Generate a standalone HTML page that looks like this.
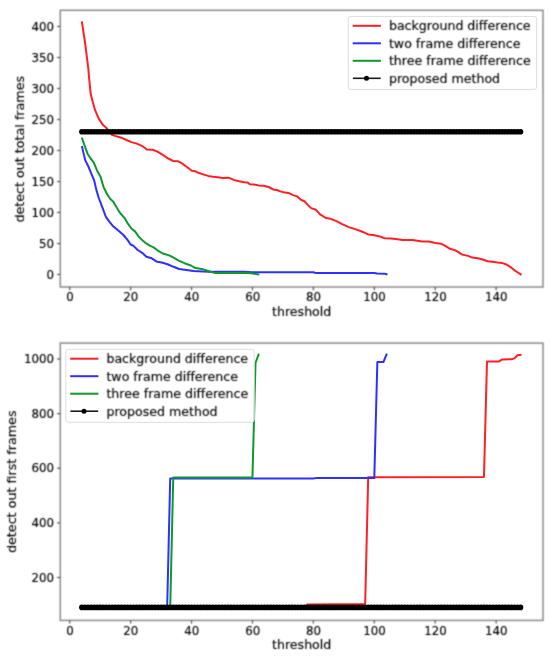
<!DOCTYPE html>
<html><head><meta charset="utf-8"><title>threshold comparison</title>
<style>html,body{margin:0;padding:0;background:#fff;}body{width:550px;height:657px;overflow:hidden;}svg{display:block;}text{stroke:#000;stroke-width:0.15px;}</style>
</head><body>
<svg width="550" height="657" viewBox="0 0 550 657" font-family='"DejaVu Sans", "Liberation Sans", sans-serif' font-size="12.6" fill="#000000">
<defs><filter id="soft" filterUnits="userSpaceOnUse" x="0" y="0" width="550" height="657" color-interpolation-filters="sRGB"><feConvolveMatrix order="3" kernelMatrix="1 2 1 2 8 2 1 2 1" edgeMode="none"/></filter></defs>
<rect width="550" height="657" fill="#fff"/>
<polyline points="82.00,22.40 85.30,44.50 88.30,68.50 89.00,77.00 90.70,94.10 92.70,101.80 95.10,110.20 98.70,118.60 103.10,125.10 106.80,128.20 108.60,131.00 111.60,134.60 114.90,135.90 121.50,137.70 126.40,140.00 131.30,142.10 136.20,143.40 141.90,145.90 144.40,147.50 146.80,149.50 152.50,149.80 157.50,151.60 162.40,154.70 167.30,158.00 173.00,160.90 177.90,161.20 182.00,163.40 186.90,167.00 191.80,170.70 195.10,171.20 198.30,172.80 203.20,174.40 208.10,175.90 213.00,176.70 217.90,177.20 222.80,178.00 228.50,177.70 234.30,180.10 239.20,181.30 244.10,182.30 247.40,182.40 249.80,184.20 253.90,184.50 258.80,185.40 263.70,185.70 268.60,187.00 273.50,189.50 276.80,190.00 280.50,191.40 283.30,192.30 289.00,193.10 293.10,195.10 297.20,196.40 301.30,200.00 304.50,201.30 307.80,204.90 311.10,208.10 316.00,209.80 320.10,214.40 325.80,218.00 330.70,218.80 336.50,221.20 342.20,224.20 348.70,227.10 355.30,229.10 361.80,231.50 366.00,233.30 368.30,234.40 373.20,235.10 379.70,236.40 384.60,238.30 391.20,238.50 397.70,239.30 402.60,240.00 412.50,240.00 415.70,240.50 422.30,241.60 428.80,241.60 435.40,242.90 441.10,243.70 445.20,245.90 450.10,248.80 455.50,250.40 462.30,254.60 468.00,255.90 472.10,257.60 477.80,258.20 482.70,259.50 487.60,261.20 492.50,261.70 497.50,262.50 502.40,263.10 506.50,264.50 511.40,267.70 515.50,271.00 520.60,274.40" fill="none" stroke="#ff1f24" stroke-width="2.0" stroke-linejoin="round" stroke-linecap="square"/>
<polyline points="82.10,147.00 83.50,153.10 85.30,160.40 88.40,166.50 91.40,173.80 94.20,180.50 96.30,189.60 98.60,197.50 101.50,205.20 105.90,216.80 109.50,221.90 113.20,226.30 118.30,230.60 123.40,235.00 127.70,240.10 130.60,244.50 133.50,245.90 137.70,250.00 142.20,252.80 146.40,256.80 151.80,258.30 156.40,261.40 162.70,262.80 168.20,264.50 173.60,266.80 179.10,269.00 186.40,269.90 193.60,271.00 202.70,271.40 210.00,271.80 245.30,271.80 251.10,272.20 313.40,272.30 316.00,273.10 374.50,273.10 377.00,273.60 384.70,273.80 386.50,274.30" fill="none" stroke="#2f2fff" stroke-width="2.0" stroke-linejoin="round" stroke-linecap="square"/>
<polyline points="82.10,138.50 84.70,145.80 87.80,154.30 90.80,158.60 93.90,162.90 96.90,170.20 100.60,176.90 103.60,187.20 107.30,194.50 110.30,199.00 113.20,201.50 116.10,206.60 119.70,212.50 124.80,218.30 127.70,223.40 131.40,228.50 135.00,231.40 138.60,236.50 141.50,239.40 146.60,243.70 150.30,245.90 153.20,247.10 157.50,250.30 162.70,253.50 169.10,255.40 173.60,257.70 179.10,260.80 184.50,263.20 190.90,265.50 195.50,268.10 201.70,268.90 206.00,270.30 210.40,271.70 214.70,272.90 245.30,272.90 251.10,273.20 258.40,274.30" fill="none" stroke="#0e982f" stroke-width="2.0" stroke-linejoin="round" stroke-linecap="square"/>
<g fill="#000"><line x1="81.88" y1="131.7" x2="520.51" y2="131.7" stroke="#000" stroke-width="1.9"/><circle cx="81.88" cy="131.7" r="2.8"/><circle cx="84.93" cy="131.7" r="2.8"/><circle cx="87.98" cy="131.7" r="2.8"/><circle cx="91.02" cy="131.7" r="2.8"/><circle cx="94.07" cy="131.7" r="2.8"/><circle cx="97.11" cy="131.7" r="2.8"/><circle cx="100.16" cy="131.7" r="2.8"/><circle cx="103.21" cy="131.7" r="2.8"/><circle cx="106.25" cy="131.7" r="2.8"/><circle cx="109.30" cy="131.7" r="2.8"/><circle cx="112.34" cy="131.7" r="2.8"/><circle cx="115.39" cy="131.7" r="2.8"/><circle cx="118.44" cy="131.7" r="2.8"/><circle cx="121.48" cy="131.7" r="2.8"/><circle cx="124.53" cy="131.7" r="2.8"/><circle cx="127.57" cy="131.7" r="2.8"/><circle cx="130.62" cy="131.7" r="2.8"/><circle cx="133.67" cy="131.7" r="2.8"/><circle cx="136.71" cy="131.7" r="2.8"/><circle cx="139.76" cy="131.7" r="2.8"/><circle cx="142.80" cy="131.7" r="2.8"/><circle cx="145.85" cy="131.7" r="2.8"/><circle cx="148.90" cy="131.7" r="2.8"/><circle cx="151.94" cy="131.7" r="2.8"/><circle cx="154.99" cy="131.7" r="2.8"/><circle cx="158.03" cy="131.7" r="2.8"/><circle cx="161.08" cy="131.7" r="2.8"/><circle cx="164.13" cy="131.7" r="2.8"/><circle cx="167.17" cy="131.7" r="2.8"/><circle cx="170.22" cy="131.7" r="2.8"/><circle cx="173.26" cy="131.7" r="2.8"/><circle cx="176.31" cy="131.7" r="2.8"/><circle cx="179.36" cy="131.7" r="2.8"/><circle cx="182.40" cy="131.7" r="2.8"/><circle cx="185.45" cy="131.7" r="2.8"/><circle cx="188.49" cy="131.7" r="2.8"/><circle cx="191.54" cy="131.7" r="2.8"/><circle cx="194.59" cy="131.7" r="2.8"/><circle cx="197.63" cy="131.7" r="2.8"/><circle cx="200.68" cy="131.7" r="2.8"/><circle cx="203.72" cy="131.7" r="2.8"/><circle cx="206.77" cy="131.7" r="2.8"/><circle cx="209.82" cy="131.7" r="2.8"/><circle cx="212.86" cy="131.7" r="2.8"/><circle cx="215.91" cy="131.7" r="2.8"/><circle cx="218.95" cy="131.7" r="2.8"/><circle cx="222.00" cy="131.7" r="2.8"/><circle cx="225.05" cy="131.7" r="2.8"/><circle cx="228.09" cy="131.7" r="2.8"/><circle cx="231.14" cy="131.7" r="2.8"/><circle cx="234.18" cy="131.7" r="2.8"/><circle cx="237.23" cy="131.7" r="2.8"/><circle cx="240.28" cy="131.7" r="2.8"/><circle cx="243.32" cy="131.7" r="2.8"/><circle cx="246.37" cy="131.7" r="2.8"/><circle cx="249.41" cy="131.7" r="2.8"/><circle cx="252.46" cy="131.7" r="2.8"/><circle cx="255.51" cy="131.7" r="2.8"/><circle cx="258.55" cy="131.7" r="2.8"/><circle cx="261.60" cy="131.7" r="2.8"/><circle cx="264.64" cy="131.7" r="2.8"/><circle cx="267.69" cy="131.7" r="2.8"/><circle cx="270.74" cy="131.7" r="2.8"/><circle cx="273.78" cy="131.7" r="2.8"/><circle cx="276.83" cy="131.7" r="2.8"/><circle cx="279.87" cy="131.7" r="2.8"/><circle cx="282.92" cy="131.7" r="2.8"/><circle cx="285.97" cy="131.7" r="2.8"/><circle cx="289.01" cy="131.7" r="2.8"/><circle cx="292.06" cy="131.7" r="2.8"/><circle cx="295.10" cy="131.7" r="2.8"/><circle cx="298.15" cy="131.7" r="2.8"/><circle cx="301.20" cy="131.7" r="2.8"/><circle cx="304.24" cy="131.7" r="2.8"/><circle cx="307.29" cy="131.7" r="2.8"/><circle cx="310.33" cy="131.7" r="2.8"/><circle cx="313.38" cy="131.7" r="2.8"/><circle cx="316.43" cy="131.7" r="2.8"/><circle cx="319.47" cy="131.7" r="2.8"/><circle cx="322.52" cy="131.7" r="2.8"/><circle cx="325.56" cy="131.7" r="2.8"/><circle cx="328.61" cy="131.7" r="2.8"/><circle cx="331.66" cy="131.7" r="2.8"/><circle cx="334.70" cy="131.7" r="2.8"/><circle cx="337.75" cy="131.7" r="2.8"/><circle cx="340.79" cy="131.7" r="2.8"/><circle cx="343.84" cy="131.7" r="2.8"/><circle cx="346.89" cy="131.7" r="2.8"/><circle cx="349.93" cy="131.7" r="2.8"/><circle cx="352.98" cy="131.7" r="2.8"/><circle cx="356.02" cy="131.7" r="2.8"/><circle cx="359.07" cy="131.7" r="2.8"/><circle cx="362.12" cy="131.7" r="2.8"/><circle cx="365.16" cy="131.7" r="2.8"/><circle cx="368.21" cy="131.7" r="2.8"/><circle cx="371.25" cy="131.7" r="2.8"/><circle cx="374.30" cy="131.7" r="2.8"/><circle cx="377.35" cy="131.7" r="2.8"/><circle cx="380.39" cy="131.7" r="2.8"/><circle cx="383.44" cy="131.7" r="2.8"/><circle cx="386.48" cy="131.7" r="2.8"/><circle cx="389.53" cy="131.7" r="2.8"/><circle cx="392.58" cy="131.7" r="2.8"/><circle cx="395.62" cy="131.7" r="2.8"/><circle cx="398.67" cy="131.7" r="2.8"/><circle cx="401.71" cy="131.7" r="2.8"/><circle cx="404.76" cy="131.7" r="2.8"/><circle cx="407.81" cy="131.7" r="2.8"/><circle cx="410.85" cy="131.7" r="2.8"/><circle cx="413.90" cy="131.7" r="2.8"/><circle cx="416.94" cy="131.7" r="2.8"/><circle cx="419.99" cy="131.7" r="2.8"/><circle cx="423.04" cy="131.7" r="2.8"/><circle cx="426.08" cy="131.7" r="2.8"/><circle cx="429.13" cy="131.7" r="2.8"/><circle cx="432.17" cy="131.7" r="2.8"/><circle cx="435.22" cy="131.7" r="2.8"/><circle cx="438.27" cy="131.7" r="2.8"/><circle cx="441.31" cy="131.7" r="2.8"/><circle cx="444.36" cy="131.7" r="2.8"/><circle cx="447.40" cy="131.7" r="2.8"/><circle cx="450.45" cy="131.7" r="2.8"/><circle cx="453.50" cy="131.7" r="2.8"/><circle cx="456.54" cy="131.7" r="2.8"/><circle cx="459.59" cy="131.7" r="2.8"/><circle cx="462.63" cy="131.7" r="2.8"/><circle cx="465.68" cy="131.7" r="2.8"/><circle cx="468.73" cy="131.7" r="2.8"/><circle cx="471.77" cy="131.7" r="2.8"/><circle cx="474.82" cy="131.7" r="2.8"/><circle cx="477.86" cy="131.7" r="2.8"/><circle cx="480.91" cy="131.7" r="2.8"/><circle cx="483.96" cy="131.7" r="2.8"/><circle cx="487.00" cy="131.7" r="2.8"/><circle cx="490.05" cy="131.7" r="2.8"/><circle cx="493.09" cy="131.7" r="2.8"/><circle cx="496.14" cy="131.7" r="2.8"/><circle cx="499.19" cy="131.7" r="2.8"/><circle cx="502.23" cy="131.7" r="2.8"/><circle cx="505.28" cy="131.7" r="2.8"/><circle cx="508.32" cy="131.7" r="2.8"/><circle cx="511.37" cy="131.7" r="2.8"/><circle cx="514.42" cy="131.7" r="2.8"/><circle cx="517.46" cy="131.7" r="2.8"/><circle cx="520.51" cy="131.7" r="2.8"/></g>
<polyline points="81.88,607.40 304.24,607.40 307.29,604.50 365.16,604.10 368.21,477.20 483.96,477.00 487.00,361.40 499.19,361.40 502.23,359.40 511.37,359.20 514.42,358.40 517.46,355.20 520.51,354.80" fill="none" stroke="#ff1f24" stroke-width="2.0" stroke-linejoin="round" stroke-linecap="square"/>
<polyline points="81.88,607.40 167.17,607.40 170.22,478.40 313.38,478.40 316.43,478.10 374.30,478.10 377.35,362.00 383.44,362.00 386.48,354.60" fill="none" stroke="#2f2fff" stroke-width="2.0" stroke-linejoin="round" stroke-linecap="square"/>
<polyline points="81.88,607.40 170.22,607.40 173.26,477.40 252.46,477.40 255.51,363.00 258.55,354.60" fill="none" stroke="#0e982f" stroke-width="2.0" stroke-linejoin="round" stroke-linecap="square"/>
<g fill="#000"><line x1="81.88" y1="607.4" x2="520.51" y2="607.4" stroke="#000" stroke-width="1.9"/><circle cx="81.88" cy="607.4" r="2.8"/><circle cx="84.93" cy="607.4" r="2.8"/><circle cx="87.98" cy="607.4" r="2.8"/><circle cx="91.02" cy="607.4" r="2.8"/><circle cx="94.07" cy="607.4" r="2.8"/><circle cx="97.11" cy="607.4" r="2.8"/><circle cx="100.16" cy="607.4" r="2.8"/><circle cx="103.21" cy="607.4" r="2.8"/><circle cx="106.25" cy="607.4" r="2.8"/><circle cx="109.30" cy="607.4" r="2.8"/><circle cx="112.34" cy="607.4" r="2.8"/><circle cx="115.39" cy="607.4" r="2.8"/><circle cx="118.44" cy="607.4" r="2.8"/><circle cx="121.48" cy="607.4" r="2.8"/><circle cx="124.53" cy="607.4" r="2.8"/><circle cx="127.57" cy="607.4" r="2.8"/><circle cx="130.62" cy="607.4" r="2.8"/><circle cx="133.67" cy="607.4" r="2.8"/><circle cx="136.71" cy="607.4" r="2.8"/><circle cx="139.76" cy="607.4" r="2.8"/><circle cx="142.80" cy="607.4" r="2.8"/><circle cx="145.85" cy="607.4" r="2.8"/><circle cx="148.90" cy="607.4" r="2.8"/><circle cx="151.94" cy="607.4" r="2.8"/><circle cx="154.99" cy="607.4" r="2.8"/><circle cx="158.03" cy="607.4" r="2.8"/><circle cx="161.08" cy="607.4" r="2.8"/><circle cx="164.13" cy="607.4" r="2.8"/><circle cx="167.17" cy="607.4" r="2.8"/><circle cx="170.22" cy="607.4" r="2.8"/><circle cx="173.26" cy="607.4" r="2.8"/><circle cx="176.31" cy="607.4" r="2.8"/><circle cx="179.36" cy="607.4" r="2.8"/><circle cx="182.40" cy="607.4" r="2.8"/><circle cx="185.45" cy="607.4" r="2.8"/><circle cx="188.49" cy="607.4" r="2.8"/><circle cx="191.54" cy="607.4" r="2.8"/><circle cx="194.59" cy="607.4" r="2.8"/><circle cx="197.63" cy="607.4" r="2.8"/><circle cx="200.68" cy="607.4" r="2.8"/><circle cx="203.72" cy="607.4" r="2.8"/><circle cx="206.77" cy="607.4" r="2.8"/><circle cx="209.82" cy="607.4" r="2.8"/><circle cx="212.86" cy="607.4" r="2.8"/><circle cx="215.91" cy="607.4" r="2.8"/><circle cx="218.95" cy="607.4" r="2.8"/><circle cx="222.00" cy="607.4" r="2.8"/><circle cx="225.05" cy="607.4" r="2.8"/><circle cx="228.09" cy="607.4" r="2.8"/><circle cx="231.14" cy="607.4" r="2.8"/><circle cx="234.18" cy="607.4" r="2.8"/><circle cx="237.23" cy="607.4" r="2.8"/><circle cx="240.28" cy="607.4" r="2.8"/><circle cx="243.32" cy="607.4" r="2.8"/><circle cx="246.37" cy="607.4" r="2.8"/><circle cx="249.41" cy="607.4" r="2.8"/><circle cx="252.46" cy="607.4" r="2.8"/><circle cx="255.51" cy="607.4" r="2.8"/><circle cx="258.55" cy="607.4" r="2.8"/><circle cx="261.60" cy="607.4" r="2.8"/><circle cx="264.64" cy="607.4" r="2.8"/><circle cx="267.69" cy="607.4" r="2.8"/><circle cx="270.74" cy="607.4" r="2.8"/><circle cx="273.78" cy="607.4" r="2.8"/><circle cx="276.83" cy="607.4" r="2.8"/><circle cx="279.87" cy="607.4" r="2.8"/><circle cx="282.92" cy="607.4" r="2.8"/><circle cx="285.97" cy="607.4" r="2.8"/><circle cx="289.01" cy="607.4" r="2.8"/><circle cx="292.06" cy="607.4" r="2.8"/><circle cx="295.10" cy="607.4" r="2.8"/><circle cx="298.15" cy="607.4" r="2.8"/><circle cx="301.20" cy="607.4" r="2.8"/><circle cx="304.24" cy="607.4" r="2.8"/><circle cx="307.29" cy="607.4" r="2.8"/><circle cx="310.33" cy="607.4" r="2.8"/><circle cx="313.38" cy="607.4" r="2.8"/><circle cx="316.43" cy="607.4" r="2.8"/><circle cx="319.47" cy="607.4" r="2.8"/><circle cx="322.52" cy="607.4" r="2.8"/><circle cx="325.56" cy="607.4" r="2.8"/><circle cx="328.61" cy="607.4" r="2.8"/><circle cx="331.66" cy="607.4" r="2.8"/><circle cx="334.70" cy="607.4" r="2.8"/><circle cx="337.75" cy="607.4" r="2.8"/><circle cx="340.79" cy="607.4" r="2.8"/><circle cx="343.84" cy="607.4" r="2.8"/><circle cx="346.89" cy="607.4" r="2.8"/><circle cx="349.93" cy="607.4" r="2.8"/><circle cx="352.98" cy="607.4" r="2.8"/><circle cx="356.02" cy="607.4" r="2.8"/><circle cx="359.07" cy="607.4" r="2.8"/><circle cx="362.12" cy="607.4" r="2.8"/><circle cx="365.16" cy="607.4" r="2.8"/><circle cx="368.21" cy="607.4" r="2.8"/><circle cx="371.25" cy="607.4" r="2.8"/><circle cx="374.30" cy="607.4" r="2.8"/><circle cx="377.35" cy="607.4" r="2.8"/><circle cx="380.39" cy="607.4" r="2.8"/><circle cx="383.44" cy="607.4" r="2.8"/><circle cx="386.48" cy="607.4" r="2.8"/><circle cx="389.53" cy="607.4" r="2.8"/><circle cx="392.58" cy="607.4" r="2.8"/><circle cx="395.62" cy="607.4" r="2.8"/><circle cx="398.67" cy="607.4" r="2.8"/><circle cx="401.71" cy="607.4" r="2.8"/><circle cx="404.76" cy="607.4" r="2.8"/><circle cx="407.81" cy="607.4" r="2.8"/><circle cx="410.85" cy="607.4" r="2.8"/><circle cx="413.90" cy="607.4" r="2.8"/><circle cx="416.94" cy="607.4" r="2.8"/><circle cx="419.99" cy="607.4" r="2.8"/><circle cx="423.04" cy="607.4" r="2.8"/><circle cx="426.08" cy="607.4" r="2.8"/><circle cx="429.13" cy="607.4" r="2.8"/><circle cx="432.17" cy="607.4" r="2.8"/><circle cx="435.22" cy="607.4" r="2.8"/><circle cx="438.27" cy="607.4" r="2.8"/><circle cx="441.31" cy="607.4" r="2.8"/><circle cx="444.36" cy="607.4" r="2.8"/><circle cx="447.40" cy="607.4" r="2.8"/><circle cx="450.45" cy="607.4" r="2.8"/><circle cx="453.50" cy="607.4" r="2.8"/><circle cx="456.54" cy="607.4" r="2.8"/><circle cx="459.59" cy="607.4" r="2.8"/><circle cx="462.63" cy="607.4" r="2.8"/><circle cx="465.68" cy="607.4" r="2.8"/><circle cx="468.73" cy="607.4" r="2.8"/><circle cx="471.77" cy="607.4" r="2.8"/><circle cx="474.82" cy="607.4" r="2.8"/><circle cx="477.86" cy="607.4" r="2.8"/><circle cx="480.91" cy="607.4" r="2.8"/><circle cx="483.96" cy="607.4" r="2.8"/><circle cx="487.00" cy="607.4" r="2.8"/><circle cx="490.05" cy="607.4" r="2.8"/><circle cx="493.09" cy="607.4" r="2.8"/><circle cx="496.14" cy="607.4" r="2.8"/><circle cx="499.19" cy="607.4" r="2.8"/><circle cx="502.23" cy="607.4" r="2.8"/><circle cx="505.28" cy="607.4" r="2.8"/><circle cx="508.32" cy="607.4" r="2.8"/><circle cx="511.37" cy="607.4" r="2.8"/><circle cx="514.42" cy="607.4" r="2.8"/><circle cx="517.46" cy="607.4" r="2.8"/><circle cx="520.51" cy="607.4" r="2.8"/></g>
<rect x="348.30" y="16.40" width="188.4" height="73.0" rx="2.6" fill="#fff" fill-opacity="0.8" stroke="#dedede" stroke-width="1"/>
<line x1="353.70" y1="25.80" x2="379.90" y2="25.80" stroke="#ff1f24" stroke-width="2.0" stroke-linecap="square"/>
<line x1="353.70" y1="43.30" x2="379.90" y2="43.30" stroke="#2f2fff" stroke-width="2.0" stroke-linecap="square"/>
<line x1="353.70" y1="60.80" x2="379.90" y2="60.80" stroke="#0e982f" stroke-width="2.0" stroke-linecap="square"/>
<line x1="353.70" y1="78.30" x2="379.90" y2="78.30" stroke="#1a1a1a" stroke-width="1.6" stroke-linecap="square"/>
<circle cx="366.50" cy="78.30" r="2.5" fill="#000"/>
<rect x="65.80" y="349.30" width="188.4" height="73.0" rx="2.6" fill="#fff" fill-opacity="0.8" stroke="#dedede" stroke-width="1"/>
<line x1="71.20" y1="358.70" x2="97.40" y2="358.70" stroke="#ff1f24" stroke-width="2.0" stroke-linecap="square"/>
<line x1="71.20" y1="376.20" x2="97.40" y2="376.20" stroke="#2f2fff" stroke-width="2.0" stroke-linecap="square"/>
<line x1="71.20" y1="393.70" x2="97.40" y2="393.70" stroke="#0e982f" stroke-width="2.0" stroke-linecap="square"/>
<line x1="71.20" y1="411.20" x2="97.40" y2="411.20" stroke="#1a1a1a" stroke-width="1.6" stroke-linecap="square"/>
<circle cx="84.00" cy="411.20" r="2.5" fill="#000"/>
<g filter="url(#soft)">
<rect x="60.30" y="10.30" width="482.70" height="276.70" fill="none" stroke="#8a8a8a" stroke-width="1.5"/>
<line x1="57.10" y1="274.50" x2="60.30" y2="274.50" stroke="#555" stroke-width="1.2"/>
<text transform="translate(54.0,278.70) scale(1,1.0)" text-anchor="end" font-size="11.8">0</text>
<line x1="57.10" y1="243.50" x2="60.30" y2="243.50" stroke="#555" stroke-width="1.2"/>
<text transform="translate(54.0,247.70) scale(1,1.0)" text-anchor="end" font-size="11.8">50</text>
<line x1="57.10" y1="212.50" x2="60.30" y2="212.50" stroke="#555" stroke-width="1.2"/>
<text transform="translate(54.0,216.70) scale(1,1.0)" text-anchor="end" font-size="11.8">100</text>
<line x1="57.10" y1="181.50" x2="60.30" y2="181.50" stroke="#555" stroke-width="1.2"/>
<text transform="translate(54.0,185.70) scale(1,1.0)" text-anchor="end" font-size="11.8">150</text>
<line x1="57.10" y1="150.50" x2="60.30" y2="150.50" stroke="#555" stroke-width="1.2"/>
<text transform="translate(54.0,154.70) scale(1,1.0)" text-anchor="end" font-size="11.8">200</text>
<line x1="57.10" y1="119.50" x2="60.30" y2="119.50" stroke="#555" stroke-width="1.2"/>
<text transform="translate(54.0,123.70) scale(1,1.0)" text-anchor="end" font-size="11.8">250</text>
<line x1="57.10" y1="88.50" x2="60.30" y2="88.50" stroke="#555" stroke-width="1.2"/>
<text transform="translate(54.0,92.70) scale(1,1.0)" text-anchor="end" font-size="11.8">300</text>
<line x1="57.10" y1="57.50" x2="60.30" y2="57.50" stroke="#555" stroke-width="1.2"/>
<text transform="translate(54.0,61.70) scale(1,1.0)" text-anchor="end" font-size="11.8">350</text>
<line x1="57.10" y1="26.50" x2="60.30" y2="26.50" stroke="#555" stroke-width="1.2"/>
<text transform="translate(54.0,30.70) scale(1,1.0)" text-anchor="end" font-size="11.8">400</text>
<line x1="69.70" y1="287.00" x2="69.70" y2="290.20" stroke="#555" stroke-width="1.2"/>
<text transform="translate(69.90,301.10) scale(1,1.0)" text-anchor="middle" font-size="11.8">0</text>
<line x1="130.62" y1="287.00" x2="130.62" y2="290.20" stroke="#555" stroke-width="1.2"/>
<text transform="translate(130.82,301.10) scale(1,1.0)" text-anchor="middle" font-size="11.8">20</text>
<line x1="191.54" y1="287.00" x2="191.54" y2="290.20" stroke="#555" stroke-width="1.2"/>
<text transform="translate(191.74,301.10) scale(1,1.0)" text-anchor="middle" font-size="11.8">40</text>
<line x1="252.46" y1="287.00" x2="252.46" y2="290.20" stroke="#555" stroke-width="1.2"/>
<text transform="translate(252.66,301.10) scale(1,1.0)" text-anchor="middle" font-size="11.8">60</text>
<line x1="313.38" y1="287.00" x2="313.38" y2="290.20" stroke="#555" stroke-width="1.2"/>
<text transform="translate(313.58,301.10) scale(1,1.0)" text-anchor="middle" font-size="11.8">80</text>
<line x1="374.30" y1="287.00" x2="374.30" y2="290.20" stroke="#555" stroke-width="1.2"/>
<text transform="translate(374.50,301.10) scale(1,1.0)" text-anchor="middle" font-size="11.8">100</text>
<line x1="435.22" y1="287.00" x2="435.22" y2="290.20" stroke="#555" stroke-width="1.2"/>
<text transform="translate(435.42,301.10) scale(1,1.0)" text-anchor="middle" font-size="11.8">120</text>
<line x1="496.14" y1="287.00" x2="496.14" y2="290.20" stroke="#555" stroke-width="1.2"/>
<text transform="translate(496.34,301.10) scale(1,1.0)" text-anchor="middle" font-size="11.8">140</text>
<text transform="translate(301.65,315.70) scale(1,0.94)" text-anchor="middle">threshold</text>
<text transform="translate(24.0,149.25) rotate(-90) scale(1,0.95)" text-anchor="middle" font-size="12.7">detect out total frames</text>
<rect x="60.30" y="343.10" width="482.70" height="277.30" fill="none" stroke="#8a8a8a" stroke-width="1.5"/>
<line x1="57.10" y1="577.50" x2="60.30" y2="577.50" stroke="#555" stroke-width="1.2"/>
<text transform="translate(54.0,581.70) scale(1,1.0)" text-anchor="end" font-size="11.8">200</text>
<line x1="57.10" y1="522.88" x2="60.30" y2="522.88" stroke="#555" stroke-width="1.2"/>
<text transform="translate(54.0,527.08) scale(1,1.0)" text-anchor="end" font-size="11.8">400</text>
<line x1="57.10" y1="468.26" x2="60.30" y2="468.26" stroke="#555" stroke-width="1.2"/>
<text transform="translate(54.0,472.46) scale(1,1.0)" text-anchor="end" font-size="11.8">600</text>
<line x1="57.10" y1="413.64" x2="60.30" y2="413.64" stroke="#555" stroke-width="1.2"/>
<text transform="translate(54.0,417.84) scale(1,1.0)" text-anchor="end" font-size="11.8">800</text>
<line x1="57.10" y1="359.02" x2="60.30" y2="359.02" stroke="#555" stroke-width="1.2"/>
<text transform="translate(54.0,363.22) scale(1,1.0)" text-anchor="end" font-size="11.8">1000</text>
<line x1="69.70" y1="620.40" x2="69.70" y2="623.60" stroke="#555" stroke-width="1.2"/>
<text transform="translate(69.90,634.50) scale(1,1.0)" text-anchor="middle" font-size="11.8">0</text>
<line x1="130.62" y1="620.40" x2="130.62" y2="623.60" stroke="#555" stroke-width="1.2"/>
<text transform="translate(130.82,634.50) scale(1,1.0)" text-anchor="middle" font-size="11.8">20</text>
<line x1="191.54" y1="620.40" x2="191.54" y2="623.60" stroke="#555" stroke-width="1.2"/>
<text transform="translate(191.74,634.50) scale(1,1.0)" text-anchor="middle" font-size="11.8">40</text>
<line x1="252.46" y1="620.40" x2="252.46" y2="623.60" stroke="#555" stroke-width="1.2"/>
<text transform="translate(252.66,634.50) scale(1,1.0)" text-anchor="middle" font-size="11.8">60</text>
<line x1="313.38" y1="620.40" x2="313.38" y2="623.60" stroke="#555" stroke-width="1.2"/>
<text transform="translate(313.58,634.50) scale(1,1.0)" text-anchor="middle" font-size="11.8">80</text>
<line x1="374.30" y1="620.40" x2="374.30" y2="623.60" stroke="#555" stroke-width="1.2"/>
<text transform="translate(374.50,634.50) scale(1,1.0)" text-anchor="middle" font-size="11.8">100</text>
<line x1="435.22" y1="620.40" x2="435.22" y2="623.60" stroke="#555" stroke-width="1.2"/>
<text transform="translate(435.42,634.50) scale(1,1.0)" text-anchor="middle" font-size="11.8">120</text>
<line x1="496.14" y1="620.40" x2="496.14" y2="623.60" stroke="#555" stroke-width="1.2"/>
<text transform="translate(496.34,634.50) scale(1,1.0)" text-anchor="middle" font-size="11.8">140</text>
<text transform="translate(301.65,649.10) scale(1,0.94)" text-anchor="middle">threshold</text>
<text transform="translate(16.0,481.75) rotate(-90) scale(1,0.95)" text-anchor="middle" font-size="12.7">detect out first frames</text>
<text transform="translate(388.90,30.30) scale(1,0.94)">background difference</text>
<text transform="translate(388.90,47.80) scale(1,0.94)">two frame difference</text>
<text transform="translate(388.90,65.30) scale(1,0.94)">three frame difference</text>
<text transform="translate(388.90,82.80) scale(1,0.94)">proposed method</text>
<text transform="translate(106.40,363.20) scale(1,0.94)">background difference</text>
<text transform="translate(106.40,380.70) scale(1,0.94)">two frame difference</text>
<text transform="translate(106.40,398.20) scale(1,0.94)">three frame difference</text>
<text transform="translate(106.40,415.70) scale(1,0.94)">proposed method</text>
</g></svg>
</body></html>
